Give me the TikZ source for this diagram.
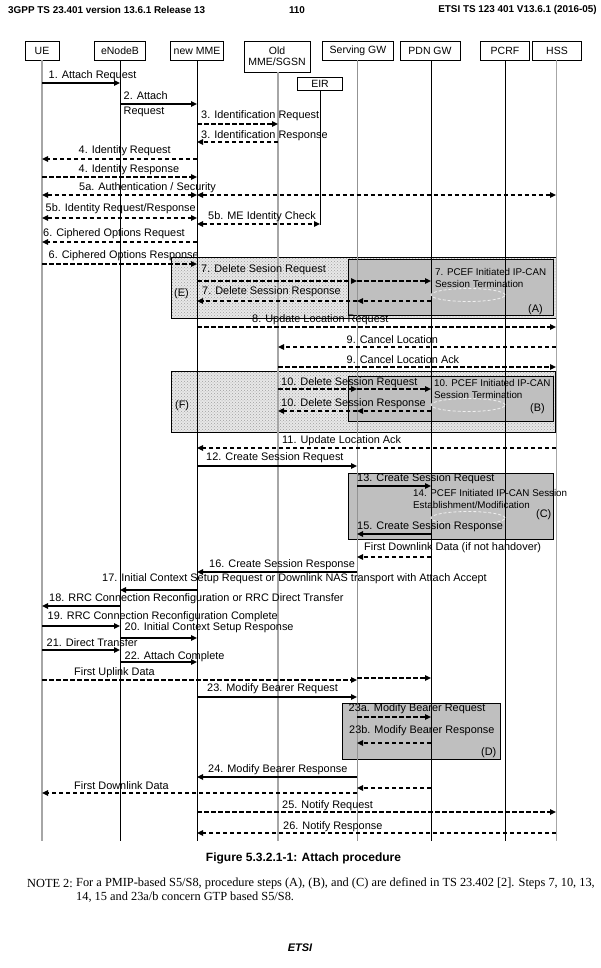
\documentclass[tikz,border=0pt]{standalone}
\usepackage{fontspec}
\setmainfont{Liberation Sans}
\newfontfamily\notefont{Liberation Serif}
\usetikzlibrary{arrows.meta,patterns}
\newcommand\fsz[1]{\fontsize{#1}{#1}\selectfont}
\newcommand\msg[4][sol]{\draw[#1] (#2 |- 0,#4) -- (#3 |- 0,#4);}
\begin{document}
\begin{tikzpicture}[x=1pt,y=-1pt,
 pbox/.style={draw, line width=0.6pt, fill=white, minimum height=19pt, inner sep=0pt, font=\fontsize{10.5}{11.5}\selectfont, align=center},
 lbl/.style={anchor=west, inner sep=0pt, font=\fsz{10.9}},
 sml/.style={anchor=west, inner sep=0pt, font=\fsz{9.8}},
 hdr/.style={inner sep=0pt, font=\bfseries\fsz{9.9}},
 sol/.style={line width=1.5pt, -{Triangle[length=6pt,width=5.5pt]}},
 dsh/.style={sol, dash pattern=on 4.5pt off 2.5pt},
 both/.style={{Triangle[length=6pt,width=5.5pt]}-{Triangle[length=6pt,width=5.5pt]}},
 life/.style={line width=0.8pt},
 lifeg/.style={line width=1.3pt, draw=gray!70},
 grbox/.style={draw, line width=0.8pt, fill=gray!50},
 hbox/.style={draw, line width=0.8pt},
 ell/.style={draw=gray!12, dash pattern=on 3pt off 2pt, line width=0.8pt},
]
\useasboundingbox (0,0) rectangle (601,968);
\fill[white] (0,0) rectangle (601,968);
% header
\node[hdr, anchor=west] (h1) at (8,10) {3GPP TS 23.401 version 13.6.1 Release 13};
\node[hdr] (h2) at (297,10) {110};
\node[hdr, anchor=east] (h3) at (597,10) {ETSI TS 123 401 V13.6.1 (2016-05)};
% lifeline x positions
\coordinate (UE) at (42,0);
\coordinate (ENB) at (120,0);
\coordinate (MME) at (197,0);
\coordinate (OLD) at (278,0);
\coordinate (EIR) at (320,0);
\coordinate (SGW) at (357,0);
\coordinate (PGW) at (431,0);
\coordinate (PCRF) at (505,0);
\coordinate (HSS) at (556,0);
% grouped areas
\fill[gray!18] (171,257) rectangle (556,318);
\fill[pattern=crosshatch dots, pattern color=gray!75] (171,257) rectangle (556,318);
\draw[hbox] (171,257) rectangle (556,318);
\path[grbox] (348,259) rectangle (553,315);
\fill[gray!18] (171,371) rectangle (555,432);
\fill[pattern=crosshatch dots, pattern color=gray!75] (171,371) rectangle (555,432);
\draw[hbox] (171,371) rectangle (555,432);
\path[grbox] (348,376) rectangle (553,421);
\path[grbox] (348,473) rectangle (553,539);
\path[grbox] (342,703) rectangle (500,759);
% participants
\node[pbox, minimum width=34pt] (ueb) at (42,50.5) {UE};
\node[pbox, minimum width=51pt] (enbb) at (120,50.5) {eNodeB};
\node[pbox, minimum width=53pt] (mmeb) at (197,50.5) {new MME};
\node[pbox, minimum width=66pt, minimum height=31pt] (oldb) at (277,56.5) {Old\\MME/SGSN};
\node[pbox, minimum width=71pt] (sgwb) at (358,50.5) {Serving GW};
\node[pbox, minimum width=60pt] (pgwb) at (430,50.5) {PDN GW};
\node[pbox, minimum width=49pt] (pcrfb) at (505,50.5) {PCRF};
\node[pbox, minimum width=49pt] (hssb) at (557,50.5) {HSS};
\node[pbox, minimum width=45pt, minimum height=13pt] (eirb) at (320,83.5) {EIR};
% lifelines
\draw[lifeg] (UE |- ueb.south) -- (UE |- 0,841);
\draw[life] (ENB |- enbb.south) -- (ENB |- 0,841);
\draw[life] (MME |- mmeb.south) -- (MME |- 0,841);
\draw[lifeg] (OLD |- oldb.south) -- (OLD |- 0,841);
\draw[life] (EIR |- eirb.south) -- (EIR |- 0,225);
\draw[lifeg, line width=1pt, draw=gray!85] (SGW |- sgwb.south) -- (SGW |- 0,841);
\draw[life] (PGW |- pgwb.south) -- (PGW |- 0,841);
\draw[life] (PCRF |- pcrfb.south) -- (PCRF |- 0,841);
\draw[lifeg, line width=1pt] (HSS |- hssb.south) -- (HSS |- 0,841);
% messages
\msg{UE}{ENB}{83}
\node[lbl] (t1) at (48.5,76) {1. Attach Request};
\msg{ENB}{MME}{104}
\node[lbl] (t2a) at (123.5,96) {2. Attach};
\node[lbl] (t2b) at (123.5,112) {Request};
\msg[dsh]{MME}{OLD}{124}
\node[lbl] (t3a) at (201,116) {3. Identification Request};
\msg[dsh]{OLD}{MME}{142}
\node[lbl] (t3b) at (201,136) {3. Identification Response};
\msg[dsh]{MME}{UE}{159}
\node[lbl] (t4a) at (78.5,151) {4. Identity Request};
\msg[dsh]{UE}{MME}{177}
\node[lbl] (t4b) at (78.5,170) {4. Identity Response};
\msg[dsh,both]{UE}{MME}{195}
\msg[dsh,both]{MME}{HSS}{195}
\node[lbl] (t5a) at (79,188) {5a. Authentication / Security};
\msg[dsh,both]{UE}{MME}{218}
\node[lbl] (t5b) at (45.5,209) {5b. Identity Request/Response};
\msg[dsh,both]{MME}{EIR}{224}
\node[lbl] (t5c) at (208,217) {5b. ME Identity Check};
\msg[dsh]{MME}{UE}{242}
\node[lbl] (t6a) at (43,234) {6. Ciphered Options Request};
\msg[dsh]{UE}{MME}{264}
\node[lbl] (t6b) at (48.5,256) {6. Ciphered Options Response};
% (E)/(A)
\msg[dsh]{MME}{SGW}{281}
\msg[dsh]{SGW}{PGW}{281}
\node[lbl] (t7a) at (201,270) {7. Delete Sesion Request};
\node[sml] (t7p) at (435,272) {7. PCEF Initiated IP-CAN};
\node[sml] (t7q) at (435,284) {Session Termination};
\draw[ell] (468,295) ellipse [x radius=37pt, y radius=6.5pt];
\msg[dsh]{PGW}{SGW}{301}
\msg[dsh]{SGW}{MME}{301}
\node[lbl] (t7b) at (202,292) {7. Delete Session Response};
\node[lbl] (tE) at (174,294) {(E)};
\node[lbl] (tA) at (528,310) {(A)};
\msg[dsh]{MME}{HSS}{327}
\node[lbl] (t8) at (252,320) {8. Update Location Request};
\msg[dsh]{HSS}{OLD}{347}
\node[lbl] (t9a) at (346.5,340) {9. Cancel Location};
\msg[dsh]{OLD}{HSS}{367}
\node[lbl] (t9b) at (346.5,360) {9. Cancel Location Ack};
% (F)/(B)
\msg[dsh]{OLD}{SGW}{389}
\msg[dsh]{SGW}{PGW}{389}
\node[lbl] (t10a) at (281,383) {10. Delete Session Request};
\node[sml] (t10p) at (434,383) {10. PCEF Initiated IP-CAN};
\node[sml] (t10q) at (434,395) {Session Termination};
\draw[ell] (468,405) ellipse [x radius=37pt, y radius=6.5pt];
\msg[dsh]{PGW}{SGW}{411}
\msg[dsh]{SGW}{OLD}{411}
\node[lbl] (t10b) at (281,404) {10. Delete Session Response};
\node[lbl] (tF) at (175,406) {(F)};
\node[lbl] (tB) at (530,409) {(B)};
\msg[dsh]{HSS}{MME}{448}
\node[lbl] (t11) at (282,441) {11. Update Location Ack};
\msg{MME}{SGW}{466}
\node[lbl] (t12) at (206,458) {12. Create Session Request};
% (C)
\msg{SGW}{PGW}{486}
\node[lbl] (t13) at (357,479) {13. Create Session Request};
\node[sml] (t14a) at (413,493) {14. PCEF Initiated IP-CAN Session};
\node[sml] (t14b) at (413,505) {Establishment/Modification};
\draw[ell] (468,518) ellipse [x radius=37pt, y radius=6.5pt];
\node[lbl] (tC) at (536,515) {(C)};
\msg{PGW}{SGW}{534}
\node[lbl] (t15) at (357,527) {15. Create Session Response};
\msg[dsh]{PGW}{SGW}{557}
\node[lbl] (tfd1) at (364,548) {First Downlink Data (if not handover)};
\msg{SGW}{MME}{572}
\node[lbl] (t16) at (209,565) {16. Create Session Response};
\msg{MME}{ENB}{590}
\node[lbl] (t17) at (102,579) {17. Initial Context Setup Request or Downlink NAS transport with Attach Accept};
\msg{ENB}{UE}{606}
\node[lbl] (t18) at (49,599) {18. RRC Connection Reconfiguration or RRC Direct Transfer};
\msg{UE}{ENB}{626}
\node[lbl] (t19) at (47.5,617) {19. RRC Connection Reconfiguration Complete};
\msg{ENB}{MME}{638}
\node[lbl] (t20) at (124.5,628) {20. Initial Context Setup Response};
\msg{UE}{ENB}{650}
\node[lbl] (t21) at (46.5,643) {21. Direct Transfer};
\msg{ENB}{MME}{662}
\node[lbl] (t22) at (124.5,657) {22. Attach Complete};
\msg[dsh]{UE}{SGW}{680}
\msg[dsh]{SGW}{PGW}{678}
\node[lbl] (tfu) at (74,673) {First Uplink Data};
\msg{MME}{SGW}{697}
\node[lbl] (t23) at (207,689) {23. Modify Bearer Request};
% (D)
\msg[dsh]{SGW}{PGW}{717}
\node[lbl] (t23a) at (348.5,709) {23a. Modify Bearer Request};
\msg[dsh]{PGW}{SGW}{743}
\node[lbl] (t23b) at (349,731) {23b. Modify Bearer Response};
\node[lbl] (tD) at (481,753) {(D)};
\msg{SGW}{MME}{777}
\node[lbl] (t24) at (208,770) {24. Modify Bearer Response};
\msg[dsh]{PGW}{SGW}{788}
\msg[dsh]{SGW}{UE}{793}
\node[lbl] (tfd2) at (74,786) {First Downlink Data};
\msg[dsh]{MME}{HSS}{812}
\node[lbl] (t25) at (282,806) {25. Notify Request};
\msg[dsh]{HSS}{MME}{833}
\node[lbl] (t26) at (283,827) {26. Notify Response};
% caption and note
\node[inner sep=0pt, font=\bfseries\fsz{12}] (cap) at (303.5,858) {Figure 5.3.2.1-1: Attach procedure};
\node[anchor=west, inner sep=0pt, font=\notefont\fsz{12.35}] (n0) at (27,883) {NOTE 2:};
\node[anchor=west, inner sep=0pt, font=\notefont\fsz{12.35}] (n1) at (76,883) {For a PMIP-based S5/S8, procedure steps (A), (B), and (C) are defined in TS 23.402 [2]. Steps 7, 10, 13,};
\node[anchor=west, inner sep=0pt, font=\notefont\fsz{12.35}] (n2) at (76,897) {14, 15 and 23a/b concern GTP based S5/S8.};
\node[inner sep=0pt, font=\bfseries\itshape\fsz{11}] (etsi) at (300,948) {ETSI};
\end{tikzpicture}
\end{document}
